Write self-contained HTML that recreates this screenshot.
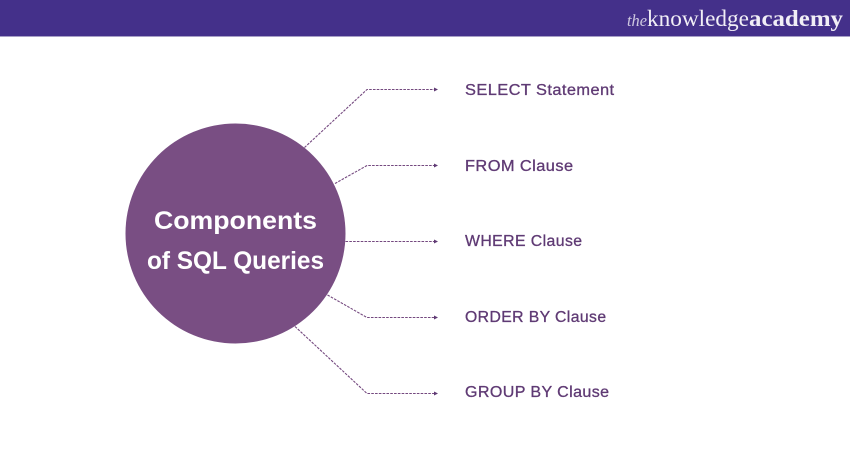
<!DOCTYPE html>
<html lang="en">
<head>
<meta charset="utf-8">
<title>Components of SQL Queries</title>
<style>
html,body{margin:0;padding:0;background:#fff;width:850px;height:450px;overflow:hidden}
svg{display:block}
text{font-family:"Liberation Sans",sans-serif}
.l{font-size:15.500px;letter-spacing:.4px;fill:#5f3a74;font-weight:400;stroke:#5f3a74;stroke-width:.3px}
.c{font-size:25px;fill:#fff;font-weight:700}
.d{fill:none;stroke:#74497f;stroke-width:1.1;stroke-dasharray:2.6 1.2}
.g{font-family:"Liberation Serif",serif;fill:#f1eef6}
</style>
</head>
<body>
<svg width="850" height="450" viewBox="0 0 850 450" xmlns="http://www.w3.org/2000/svg">
<rect width="850" height="450" fill="#fff"/>
<rect width="850" height="36" fill="#44308a"/>
<rect y="36" width="850" height="1" fill="#a79fc6"/>

<text class="g" x="627" y="26" font-size="17" font-style="italic" textLength="20" lengthAdjust="spacingAndGlyphs" opacity=".8">the</text>
<text class="g" x="647" y="26" font-size="23" textLength="102" lengthAdjust="spacingAndGlyphs">knowledge</text>
<text class="g" x="749" y="26" font-size="23" font-weight="700" textLength="94" lengthAdjust="spacingAndGlyphs">academy</text>

<circle cx="235.500" cy="233.500" r="110" fill="#794e83"/>
<text class="c" x="235.500" y="229" text-anchor="middle" textLength="163" lengthAdjust="spacingAndGlyphs">Components</text>
<text class="c" x="235.500" y="269" text-anchor="middle" textLength="177" lengthAdjust="spacingAndGlyphs">of SQL Queries</text>

<path class="d" d="M304.500 147.500L367 89.500H435"/>
<path class="d" d="M335 183.500L367 165.500H435"/>
<path class="d" d="M345.500 241.500H435"/>
<path class="d" d="M327.500 295L367 317.500H435"/>
<path class="d" d="M295 326.500L367 393.500H435"/>
<g fill="#5f3a74">
<path d="M434 87.500L438 89.500L434 91.500Z"/>
<path d="M434 163.500L438 165.500L434 167.500Z"/>
<path d="M434 239.500L438 241.500L434 243.500Z"/>
<path d="M434 315.500L438 317.500L434 319.500Z"/>
<path d="M434 391.500L438 393.500L434 395.500Z"/>
</g>

<text class="l" x="465" y="95" textLength="149.500" lengthAdjust="spacingAndGlyphs">SELECT Statement</text>
<text class="l" x="465" y="171" textLength="108.500" lengthAdjust="spacingAndGlyphs">FROM Clause</text>
<text class="l" x="465" y="246" textLength="117.500" lengthAdjust="spacingAndGlyphs">WHERE Clause</text>
<text class="l" x="465" y="322" textLength="141.500" lengthAdjust="spacingAndGlyphs">ORDER BY Clause</text>
<text class="l" x="465" y="397" textLength="144.500" lengthAdjust="spacingAndGlyphs">GROUP BY Clause</text>
</svg>
</body>
</html>
